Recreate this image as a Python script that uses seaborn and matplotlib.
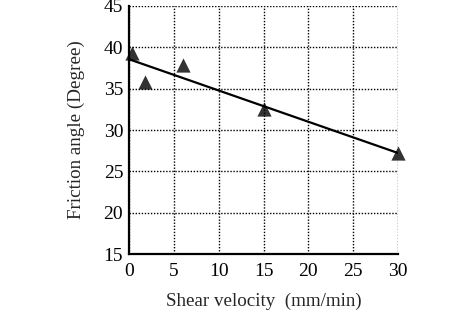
import matplotlib
matplotlib.use("Agg")
import matplotlib.pyplot as plt
import seaborn as sns
import pandas as pd

velocity = [0.3, 1.8, 6.0, 15.0, 30.0]
friction_angle = [39.3, 35.8, 37.8, 32.6, 27.2]
x_ticks = [0, 5, 10, 15, 20, 25, 30]
y_ticks = [15, 20, 25, 30, 35, 40, 45]

df = pd.DataFrame({"velocity": velocity, "angle": friction_angle})

sns.set_style("white")
plt.rcParams["font.family"] = ["Liberation Serif", "DejaVu Serif"]

fig = plt.figure(figsize=(4.74, 3.26), dpi=100)
ax = fig.add_axes([0.273, 0.22, 0.566, 0.762])
ax.set_xlim(0, 30)
ax.set_ylim(15, 45)

sns.regplot(data=df, x="velocity", y="angle", ax=ax, ci=None, truncate=False,
            marker="^", color="black",
            scatter_kws={"s": 105, "edgecolor": "black", "linewidths": 0, "zorder": 3, "clip_on": False},
            line_kws={"lw": 1.6, "color": "black"})

ax.set_xlim(0, 30)
ax.set_ylim(15, 45)
ax.set_xticks(x_ticks)
ax.set_yticks(y_ticks)
ax.grid(True, linestyle=(0, (1, 1.2)), color="black", linewidth=1.0)
ax.set_axisbelow(True)
for s in ["top", "right"]:
    ax.spines[s].set_visible(False)
for s in ["left", "bottom"]:
    ax.spines[s].set_linewidth(1.6)
    ax.spines[s].set_color("black")
ax.tick_params(axis="both", direction="inout", length=5, width=1.2, labelsize=14, colors="black")
ax.tick_params(axis="x", pad=4)
ax.tick_params(axis="y", pad=2)
ax.set_xlabel("Shear velocity  (mm/min)", fontsize=13.7, labelpad=9)
ax.set_ylabel("Friction angle (Degree)", fontsize=13.7, labelpad=13)

fig.savefig("out.png", dpi=100)
